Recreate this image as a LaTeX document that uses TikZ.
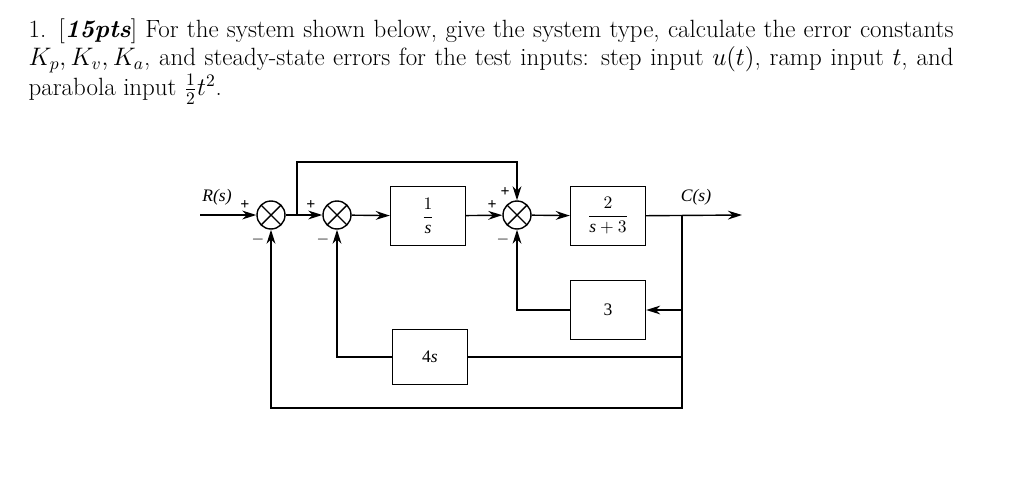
\documentclass[tikz,border=0pt]{standalone}
\usepackage{fontspec}
\setmainfont{Latin Modern Roman}
\newfontfamily\diafont{Liberation Serif}
\usetikzlibrary{positioning,arrows.meta}
\begin{document}
\begin{tikzpicture}[x=0.02cm,y=-0.02cm,>={Stealth[length=8pt,width=5pt]},
  sumpt/.style={draw,circle,minimum size=0.56cm,inner sep=0pt,thick,
    path picture={\draw[thick] (path picture bounding box.south west)--(path picture bounding box.north east)
      (path picture bounding box.north west)--(path picture bounding box.south east);}},
  blk/.style={draw,thick,minimum width=1.5cm,minimum height=1.18cm,font=\diafont},
  sgn/.style={font=\diafont\small\bfseries,inner sep=1pt},
  every path/.style={thick}]
\useasboundingbox (0,0) rectangle (1024,484);
% question text
\node[anchor=north west,text width=18.5cm,inner sep=0pt,font=\fontsize{14.2}{15.9}\selectfont,align=justify] (q) at (28,18)
  {\noindent 1. [\textit{\textbf{15pts}}] For the system shown below, give the system type, calculate the error constants
   $K_p, K_v, K_a$, and steady-state errors for the test inputs: step input $u(t)$, ramp input $t$, and
   parabola input $\frac{1}{2}t^2$.};
% diagram
\node[sumpt] (s1) at (271,215) {};
\node[sumpt] (s2) at (337,215) {};
\node[blk] (g1) at (428,216) {$\displaystyle\frac{1}{\textit{s}}$};
\node[sumpt] (s3) at (517,215) {};
\node[blk] (g2) at (608,216) {$\displaystyle\frac{2}{\textit{s}+3}$};
\node[blk] (h1) at (608,310) {3};
\node[blk,minimum height=1.1cm] (h2) at (430,357) {4\textit{s}};
\coordinate (rin) at (200,215);
\coordinate (br) at (297,215);
\coordinate (co) at (682,215);
\coordinate (out) at (742,215);
\node[font=\diafont\itshape,anchor=south] (rl) at (217,212) {R(s)};
\node[font=\diafont\itshape,anchor=south] (cl) at (696,212) {C(s)};
\draw[->] (rin) -- (s1);
\draw[->] (s1) -- (s2);
\draw[->] (br) |- (517,162) -- (s3);
\draw[->] (s2) -- (g1);
\draw[->] (g1) -- (s3);
\draw[->] (s3) -- (g2);
\draw[->] (g2) -- (out);
\draw[->] (co) |- (h1);
\draw[->] (h1) -| (s3);
\draw (co) |- (h2);
\draw[->] (h2) -| (s2);
\draw[->] (co) |- (271,408) -- (s1);
% signs
\node[sgn] (p1) at (245,205) {+};
\node[sgn] (m1) at (258,240) {$-$};
\node[sgn] (p2) at (311,205) {+};
\node[sgn] (m2) at (323,240) {$-$};
\node[sgn] (p3) at (492,205) {+};
\node[sgn] (p4) at (505,192) {+};
\node[sgn] (m3) at (503,240) {$-$};
\end{tikzpicture}
\end{document}
